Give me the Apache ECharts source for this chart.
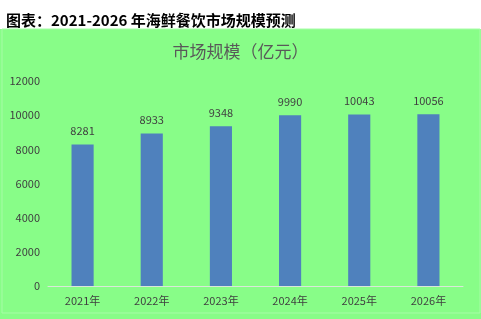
<!DOCTYPE html>
<html>
<head>
<meta charset="utf-8">
<script src="https://cdn.jsdelivr.net/npm/echarts@6/dist/echarts.min.js"></script>
<style>
  html, body { margin: 0; padding: 0; background: #fff; }
  #main { width: 481px; height: 319px; }
</style>
</head>
<body>
<div id="main"></div>
<script>
const years = ['2021年', '2022年', '2023年', '2024年', '2025年', '2026年']
const marketSize = [8281, 8933, 9348, 9990, 10043, 10056]
const yTicks = { min: 0, max: 12000, interval: 2000 }

const chart = echarts.init(document.getElementById('main'))
const font = '"Noto Sans CJK SC", "Noto Sans", sans-serif'

const option = {
  animation: false,
  textStyle: { fontFamily: font },
  graphic: [
    {
      type: 'rect',
      shape: { x: 0, y: 29, width: 481, height: 290 },
      style: { fill: '#88fd88' },
      z: -10
    },
    {
      type: 'rect',
      shape: { x: 2, y: 29, width: 478, height: 284 },
      style: { fill: 'none', stroke: '#a6fca6', lineWidth: 1 },
      z: -9
    }
  ],
  title: [
    {
      text: '图表：2021-2026 年海鲜餐饮市场规模预测',
      left: 1,
      top: 8,
      textStyle: { fontSize: 15, fontWeight: 'bold', color: '#000', fontFamily: font }
    },
    {
      text: '市场规模（亿元）',
      left: 'center',
      top: 38,
      textStyle: { fontSize: 17, fontWeight: 'normal', color: '#595959', fontFamily: font }
    }
  ],
  grid: { left: 48, right: 18, top: 81, bottom: 33 },
  xAxis: {
    type: 'category',
    data: years,
    axisLine: { lineStyle: { color: '#d9e8d9' } },
    axisTick: { show: false },
    axisLabel: { color: '#404040', fontSize: 11, margin: 9 }
  },
  yAxis: {
    type: 'value',
    min: yTicks.min,
    max: yTicks.max,
    interval: yTicks.interval,
    splitLine: { show: false },
    axisLine: { show: false },
    axisTick: { show: false },
    axisLabel: { color: '#404040', fontSize: 11, margin: 8, formatter: v => String(v) }
  },
  series: [
    {
      type: 'bar',
      data: marketSize,
      barWidth: '32%',
      itemStyle: { color: '#4f81bd' },
      label: { show: true, position: 'top', color: '#404040', fontSize: 11, distance: 8 }
    }
  ]
}
chart.setOption(option)
</script>
</body>
</html>
